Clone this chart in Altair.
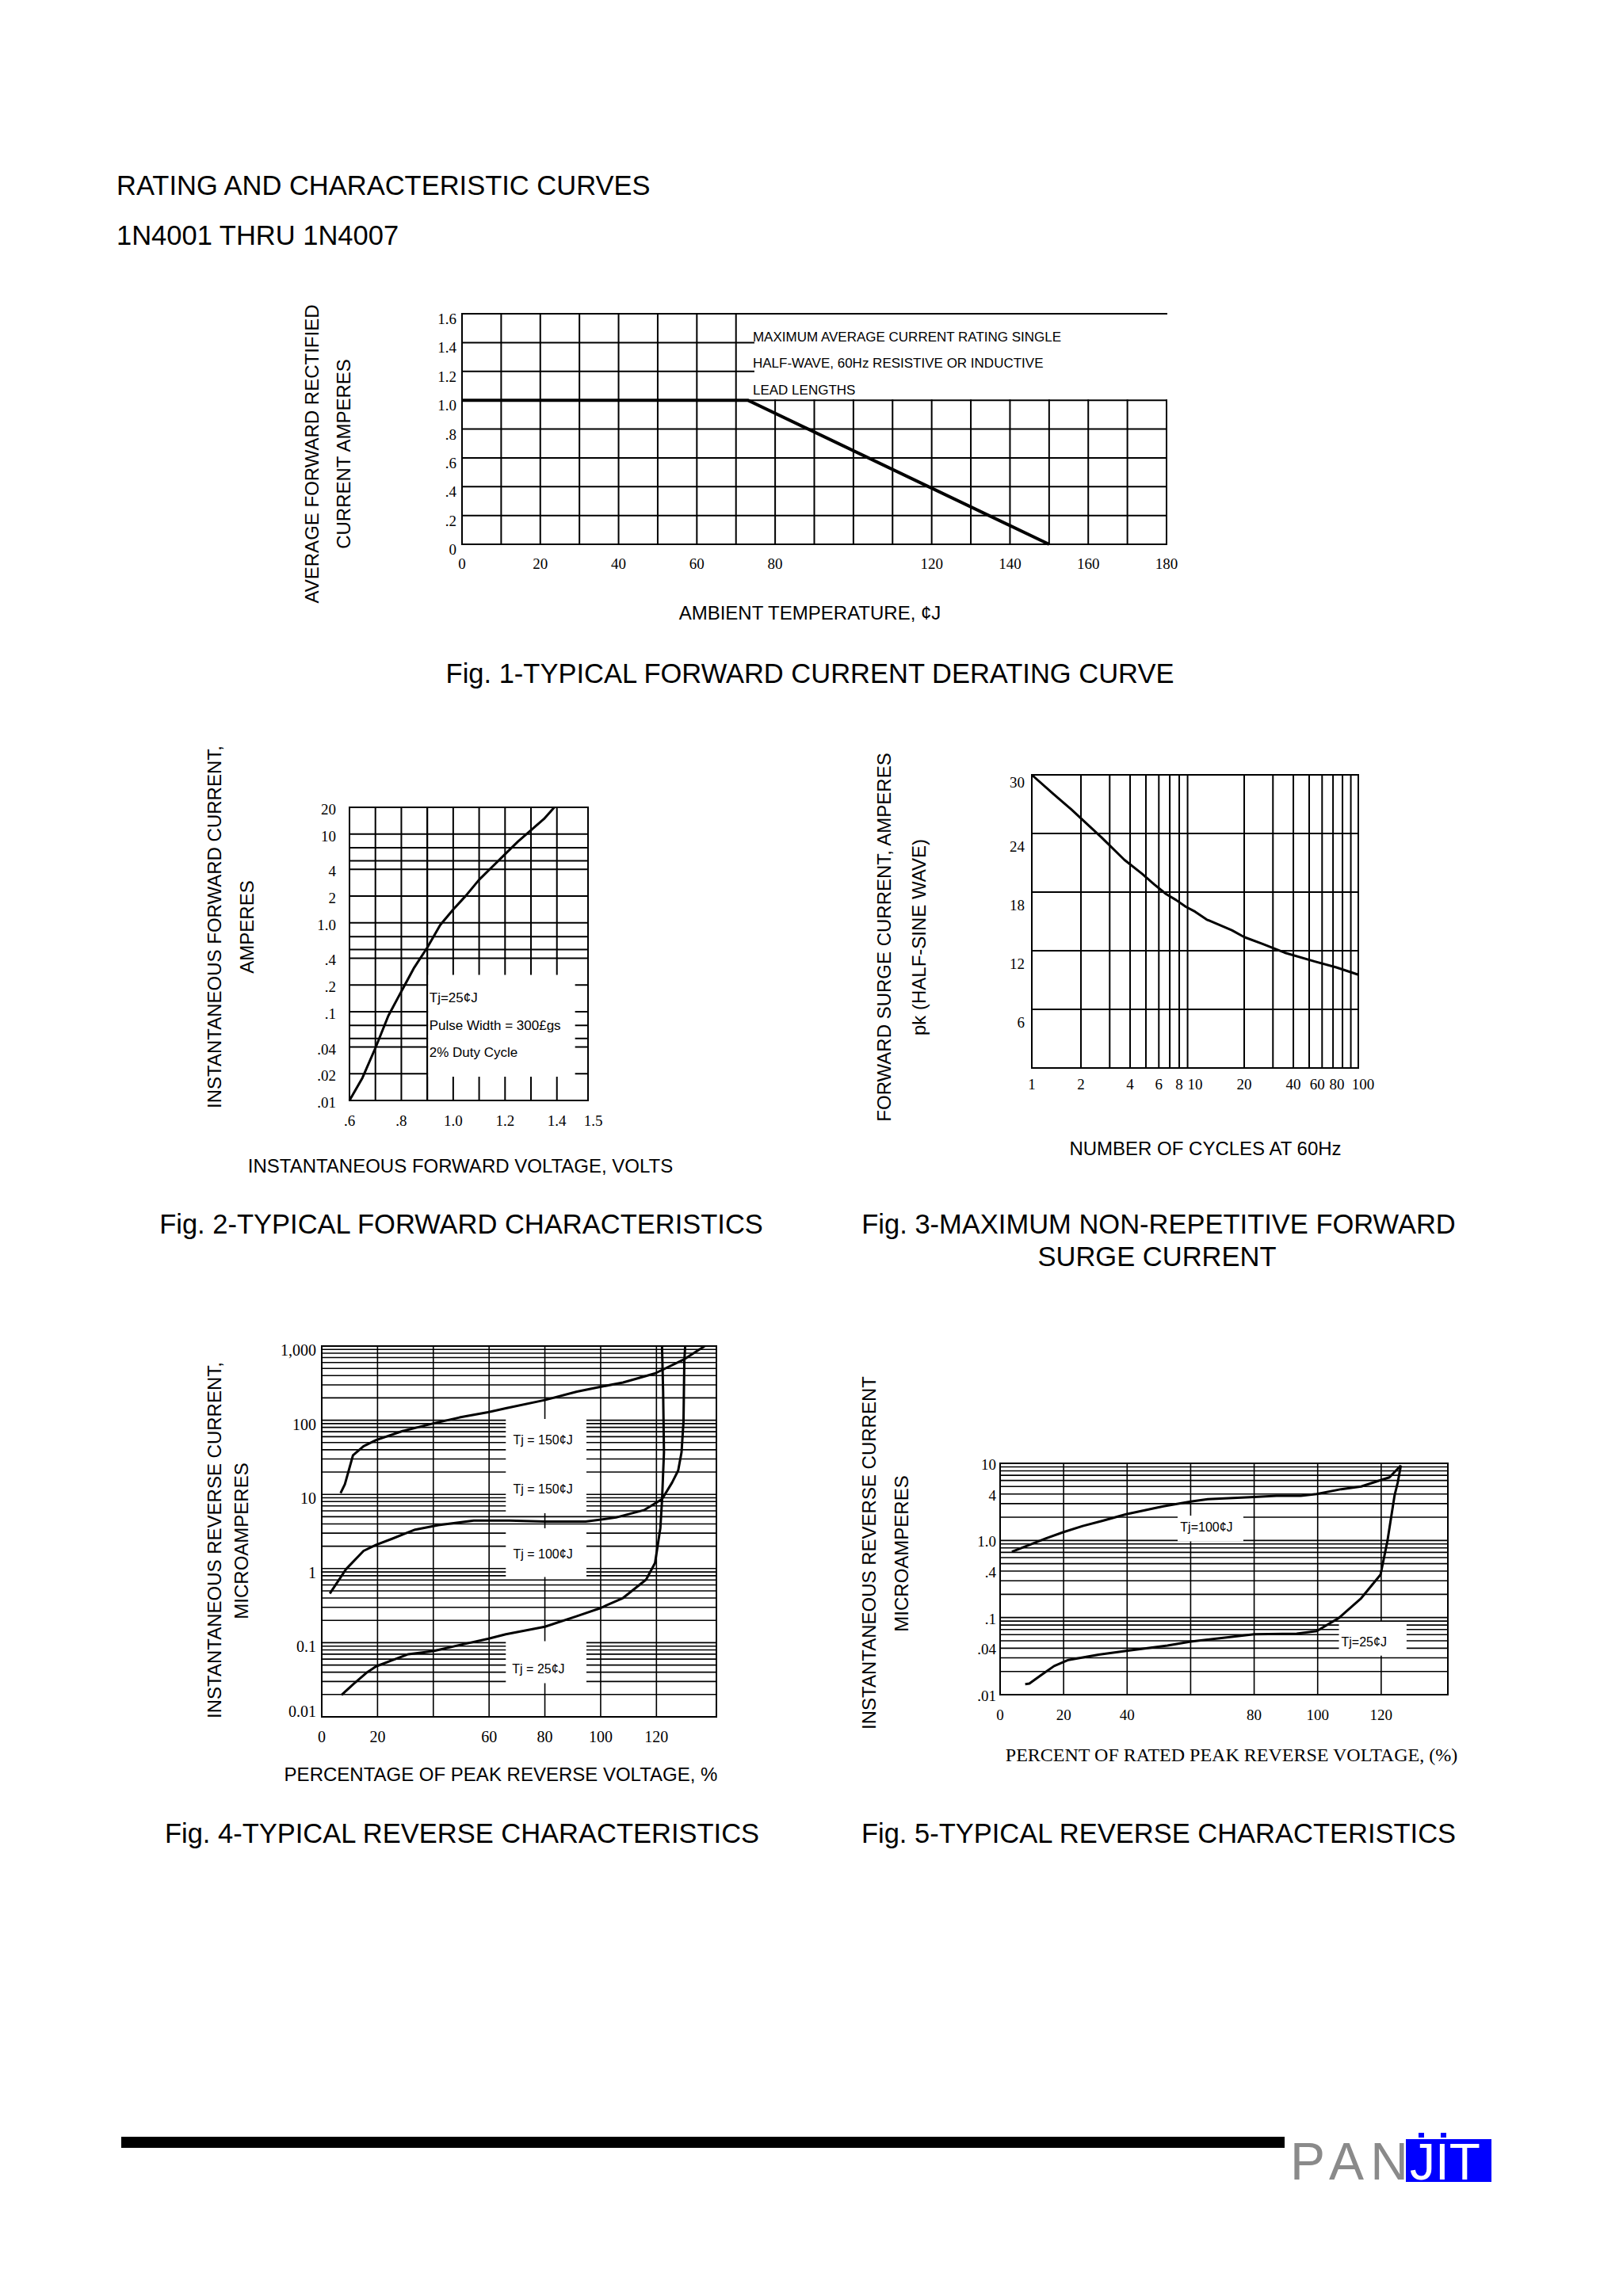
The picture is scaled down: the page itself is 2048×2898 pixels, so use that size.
import altair as alt
import pandas as pd

ORIGIN = 8
VIEW_W, VIEW_H = 2030, 2860
SANS = "Liberation Sans"
SERIF = "Liberation Serif"

# ---------------- Fig. 1 : derating curve ----------------
f1_temp = [0, 73, 150]
f1_amps = [1.0, 1.0, 0.0]
f1_x_ticks = [0, 20, 40, 60, 80, 120, 140, 160, 180]
f1_y_ticks = [0, 0.2, 0.4, 0.6, 0.8, 1.0, 1.2, 1.4, 1.6]
f1_y_labels = ["0", ".2", ".4", ".6", ".8", "1.0", "1.2", "1.4", "1.6"]
f1_vgrid_tall = [10, 20, 30, 40, 50, 60, 70]
f1_vgrid_short = [80, 90, 100, 110, 120, 130, 140, 150, 160, 170]
f1_hgrid_long = [0.2, 0.4, 0.6, 0.8, 1.0]
f1_hgrid_short = [1.2, 1.4]
f1_notes = ["MAXIMUM AVERAGE CURRENT RATING SINGLE",
            "HALF-WAVE, 60Hz RESISTIVE OR INDUCTIVE",
            "LEAD LENGTHS"]
f1_note_x = [74.3, 74.3, 74.3]
f1_note_y = [1.435, 1.253, 1.067]

# ---------------- Fig. 2 : forward characteristics ----------------
f2_volts = [0.6, 0.65, 0.7, 0.75, 0.8, 0.85, 0.9, 0.95, 1.0, 1.05, 1.1, 1.15, 1.2, 1.25, 1.3, 1.35, 1.39]
f2_amps = [0.01, 0.018, 0.039, 0.09, 0.169, 0.315, 0.527, 0.946, 1.415, 2.04, 3.06, 4.26, 5.93, 8.24, 11.04, 14.8, 20]
f2_x_ticks = [0.6, 0.8, 1.0, 1.2, 1.4, 1.54]
f2_x_labels = [".6", ".8", "1.0", "1.2", "1.4", "1.5"]
f2_y_ticks = [20, 10, 4, 2, 1, 0.4, 0.2, 0.1, 0.04, 0.02, 0.01]
f2_y_labels = ["20", "10", "4", "2", "1.0", ".4", ".2", ".1", ".04", ".02", ".01"]
f2_vgrid = [0.7, 0.8, 0.9, 1.0, 1.1, 1.2, 1.3, 1.4]
f2_hgrid = [10, 7, 5, 4, 2, 1, 0.7, 0.5, 0.4, 0.2, 0.1, 0.07, 0.05, 0.04, 0.02]
f2_box = [(0.903, 1.47, 0.0185, 0.26)]
f2_notes = ["Tj=25¢J", "Pulse Width = 300£gs", "2% Duty Cycle"]
f2_note_x = [0.908, 0.908, 0.908]
f2_note_y = [0.1415, 0.069, 0.0343]

# ---------------- Fig. 3 : surge current ----------------
f3_cycles = [1, 1.364, 1.735, 2.67, 3.69, 4.72, 5.61, 6.65, 7.64, 8.78, 10, 11.76, 16.8, 20.0, 25.9, 35.4, 54.2, 73.3, 100]
f3_amps = [30, 28.0, 26.5, 23.6, 21.3, 19.9, 18.8, 17.8, 17.2, 16.5, 16.0, 15.2, 14.1, 13.4, 12.7, 11.8, 10.9, 10.3, 9.55]
f3_x_ticks = [1, 2, 4, 6, 8, 10, 20, 40, 56, 74, 107]
f3_x_labels = ["1", "2", "4", "6", "8", "10", "20", "40", "60", "80", "100"]
f3_y_ticks = [6, 12, 18, 24]
f3_y_labels = ["6", "12", "18", "24"]
f3_y_top = [30]
f3_y_top_label = ["30"]
f3_vgrid = [2, 3, 4, 5, 6, 7, 8, 9, 20, 30, 40, 50, 60, 70, 80, 90]
f3_hgrid = [6, 12, 18, 24]

# ---------------- Fig. 4 : reverse characteristics ----------------
f4_a_pct = [6.75, 8.3, 11.2, 15, 19.5, 29, 40, 49.4, 59.6, 66, 80, 91.5, 99.5, 108, 119.5, 129.7, 137.3]
f4_a_ua = [10.4, 13.7, 33.6, 44.7, 54, 71.5, 90.5, 109, 128, 145, 187, 243, 280, 323, 428, 655, 1000]
f4_b_pct = [2.9, 8.7, 15, 19.5, 25.2, 33.5, 41.8, 54.5, 67.3, 80, 94.6, 105.5, 115.7, 122, 125.6, 127.8, 129, 129.7, 130, 130.3]
f4_b_ua = [0.46, 0.98, 1.73, 2.09, 2.52, 3.35, 3.85, 4.44, 4.44, 4.3, 4.3, 4.88, 6.17, 8.6, 14.4, 21, 37, 95, 624, 1000]
f4_c_pct = [7.1, 11.2, 16.3, 19.5, 25.2, 31, 40, 49.4, 59.6, 66, 80, 91.5, 99.5, 108, 116.3, 119.5, 121.4, 122, 122.7, 122.4, 122]
f4_c_ua = [0.0197, 0.0274, 0.04, 0.048, 0.058, 0.07, 0.077, 0.093, 0.113, 0.13, 0.164, 0.228, 0.289, 0.4, 0.71, 1.19, 3.5, 8.2, 37, 243, 1000]
f4_x_ticks = [0, 20, 60, 80, 100, 120]
f4_x_labels = ["0", "20", "60", "80", "100", "120"]
f4_y_ticks = [0.1, 1, 10, 100, 1000]
f4_y_labels = ["0.1", "1", "10", "100", "1,000"]
f4_y_bottom = [0.01]
f4_y_bottom_label = ["0.01"]
f4_vgrid = [20, 40, 60, 80, 100, 120]
f4_hgrid = [float(f"{k}e{e}") for e in range(-2, 3) for k in range(1, 10) if not (k == 1 and e == -2)]
f4_boxes = [(66, 94.9, 5.57, 104), (66, 94.9, 0.77, 3.49), (66, 94.9, 0.0285, 0.105)]
f4_notes = ["Tj = 150¢J", "Tj = 150¢J", "Tj = 100¢J", "Tj = 25¢J"]
f4_note_x = [79.3, 79.3, 79.3, 77.7]
f4_note_y = [53.7, 11.6, 1.56, 0.0435]

# ---------------- Fig. 5 : reverse characteristics ----------------
f5_a_pct = [3.7, 14.5, 20, 26, 32.3, 39.7, 51.4, 60, 65.4, 80, 87, 94.7, 99.7, 107.4, 113.7, 120, 122.6, 126.2]
f5_a_ua = [0.714, 1.065, 1.285, 1.54, 1.8, 2.19, 2.77, 3.19, 3.42, 3.65, 3.8, 3.8, 4.0, 4.62, 5.0, 6.08, 6.57, 9.36]
f5_b_pct = [7.9, 9.2, 13.2, 17, 21.5, 31, 39.7, 52.7, 60, 80, 93.4, 99.7, 106.7, 113.7, 119.8, 122, 124.2, 125.2, 126.2]
f5_b_ua = [0.0137, 0.0139, 0.0183, 0.0235, 0.0282, 0.033, 0.037, 0.0434, 0.0488, 0.0608, 0.0617, 0.0668, 0.099, 0.178, 0.36, 1.0, 3.8, 5.6, 9.36]
f5_x_ticks = [0, 20, 40, 80, 100, 120]
f5_x_labels = ["0", "20", "40", "80", "100", "120"]
f5_y_ticks = [0.01, 0.04, 0.1, 0.4, 1, 4, 10]
f5_y_labels = [".01", ".04", ".1", ".4", "1.0", "4", "10"]
f5_vgrid = [20, 40, 60, 80, 100, 120]
f5_hgrid = [float(f"{k}e{e}") for e in range(-2, 1) for k in range(1, 10) if not (k == 1 and e == -2)]
f5_boxes = [(55.9, 76.6, 0.97, 2.1), (106.7, 128, 0.032, 0.088)]
f5_notes = ["Tj=100¢J", "Tj=25¢J"]
f5_note_x = [65, 114.6]
f5_note_y = [1.47, 0.0476]


# ---------------- helpers ----------------
def P(v):
    return v - ORIGIN


def scale(typ, domain, a, b):
    if typ == "log":
        return alt.Scale(type="log", domain=domain, range=[P(a), P(b)], nice=False)
    return alt.Scale(type="linear", domain=domain, range=[P(a), P(b)], nice=False, zero=False)


def segs(items):
    return pd.DataFrame(items, columns=["x", "x2", "y", "y2"])


def seg_layer(df, sx, sy, width):
    return alt.Chart(df).mark_rule(color="black", strokeWidth=width, strokeCap="square").encode(
        x=alt.X("x:Q", scale=sx, axis=None), x2="x2:Q",
        y=alt.Y("y:Q", scale=sy, axis=None), y2="y2:Q")


def box_layer(df, sx, sy):
    return alt.Chart(df).mark_rect(color="white").encode(
        x=alt.X("x:Q", scale=sx, axis=None), x2="x2:Q",
        y=alt.Y("y:Q", scale=sy, axis=None), y2="y2:Q")


def curve_layer(series, sx, sy, width):
    rows = []
    for name, xs, ys in series:
        for i, (a, b) in enumerate(zip(xs, ys)):
            rows.append({"s": name, "i": i, "x": a, "y": b})
    return alt.Chart(pd.DataFrame(rows)).mark_line(color="black", strokeWidth=width, strokeJoin="round").encode(
        x=alt.X("x:Q", scale=sx, axis=None), y=alt.Y("y:Q", scale=sy, axis=None),
        detail="s:N", order=alt.Order("i:Q"))


def note_layer(texts, xs, ys, sx, sy, size, align):
    df = pd.DataFrame({"t": texts, "x": xs, "y": ys})
    return alt.Chart(df).mark_text(font=SANS, fontSize=size, align=align, baseline="middle", color="black").encode(
        x=alt.X("x:Q", scale=sx, axis=None), y=alt.Y("y:Q", scale=sy, axis=None), text="t:N")


def xtick_layer(vals, labels, sx, ypage, size=19):
    df = pd.DataFrame({"v": vals, "t": labels})
    return alt.Chart(df).mark_text(font=SERIF, fontSize=size, baseline="middle", color="black").encode(
        x=alt.X("v:Q", scale=sx, axis=None), y=alt.value(P(ypage)), text="t:N")


def ytick_layer(vals, labels, sy, xpage, dy, size=19):
    df = pd.DataFrame({"v": vals, "t": labels})
    return alt.Chart(df).mark_text(font=SERIF, fontSize=size, baseline="middle", align="right",
                                   dy=dy, color="black").encode(
        y=alt.Y("v:Q", scale=sy, axis=None), x=alt.value(P(xpage)), text="t:N")


def page_text(s, x, y, size, angle=0, font=SANS, align="center", baseline="middle", color="black"):
    kw = dict(font=font, fontSize=size, align=align, baseline=baseline, color=color)
    if angle:
        kw["angle"] = angle
    return alt.Chart(pd.DataFrame({"t": [s]})).mark_text(**kw).encode(
        x=alt.value(P(x)), y=alt.value(P(y)), text="t:N")


def page_rect(x1, x2, y1, y2, color):
    return alt.Chart(pd.DataFrame({"a": [0]})).mark_rect(color=color).encode(
        x=alt.value(P(x1)), x2=alt.value(P(x2)), y=alt.value(P(y1)), y2=alt.value(P(y2)))


layers = []

# ---------- Fig 1 ----------
sx1 = scale("linear", [0, 180], 583, 1472)
sy1 = scale("linear", [0, 1.6], 687, 396)
g1 = ([(v, v, 0, 1.6) for v in f1_vgrid_tall] + [(v, v, 0, 1.0) for v in f1_vgrid_short]
      + [(0, 180, v, v) for v in f1_hgrid_long] + [(0, 74.5, v, v) for v in f1_hgrid_short]
      + [(0, 0, 0, 1.6), (0, 180, 1.6, 1.6), (0, 180, 0, 0), (180, 180, 0, 1.0)])
layers += [
    seg_layer(segs(g1), sx1, sy1, 2),
    curve_layer([("a", f1_temp, f1_amps)], sx1, sy1, 4),
    note_layer(f1_notes, f1_note_x, f1_note_y, sx1, sy1, 17, "left"),
    xtick_layer(f1_x_ticks, [str(v) for v in f1_x_ticks], sx1, 712),
    ytick_layer(f1_y_ticks, f1_y_labels, sy1, 576, 7),
]

# ---------- Fig 2 ----------
sx2 = scale("linear", [0.6, 1.52], 441, 742)
sy2 = scale("log", [0.01, 20], 1389, 1019)
g2 = [(v, v, 0.01, 20) for v in f2_vgrid] + [(0.6, 1.52, v, v) for v in f2_hgrid]
b2 = [(0.6, 0.6, 0.01, 20), (1.52, 1.52, 0.01, 20), (0.6, 1.52, 0.01, 0.01), (0.6, 1.52, 20, 20)]
layers += [
    seg_layer(segs(g2), sx2, sy2, 2),
    box_layer(segs(f2_box), sx2, sy2),
    seg_layer(segs(b2 + [(0.9, 0.9, 0.01, 20)]), sx2, sy2, 2),
    curve_layer([("a", f2_volts, f2_amps)], sx2, sy2, 3),
    note_layer(f2_notes, f2_note_x, f2_note_y, sx2, sy2, 17, "left"),
    xtick_layer(f2_x_ticks, f2_x_labels, sx2, 1415),
    ytick_layer(f2_y_ticks, f2_y_labels, sy2, 424, 3),
]

# ---------- Fig 3 ----------
sx3 = scale("log", [1, 100], 1302, 1714)
sy3 = scale("linear", [0, 30], 1348, 978)
g3 = [(v, v, 0, 30) for v in f3_vgrid] + [(1, 100, v, v) for v in f3_hgrid]
b3 = [(1, 1, 0, 30), (100, 100, 0, 30), (1, 100, 0, 0), (1, 100, 30, 30)]
layers += [
    seg_layer(segs(g3 + b3), sx3, sy3, 2),
    curve_layer([("a", f3_cycles, f3_amps)], sx3, sy3, 3),
    xtick_layer(f3_x_ticks, f3_x_labels, sx3, 1369),
    ytick_layer(f3_y_ticks, f3_y_labels, sy3, 1293, 17),
    ytick_layer(f3_y_top, f3_y_top_label, sy3, 1293, 10),
]

# ---------- Fig 4 ----------
sx4 = scale("linear", [0, 141.5], 406, 904)
sy4 = scale("log", [0.01, 1000], 2167, 1699)
g4 = [(v, v, 0.01, 1000) for v in f4_vgrid] + [(0, 141.5, v, v) for v in f4_hgrid]
b4 = [(0, 0, 0.01, 1000), (141.5, 141.5, 0.01, 1000), (0, 141.5, 0.01, 0.01), (0, 141.5, 1000, 1000)]
layers += [
    seg_layer(segs(g4), sx4, sy4, 1.6),
    box_layer(segs(f4_boxes), sx4, sy4),
    seg_layer(segs(b4), sx4, sy4, 2),
    curve_layer([("a", f4_a_pct, f4_a_ua), ("b", f4_b_pct, f4_b_ua), ("c", f4_c_pct, f4_c_ua)], sx4, sy4, 3),
    note_layer(f4_notes, f4_note_x, f4_note_y, sx4, sy4, 16, "center"),
    xtick_layer(f4_x_ticks, f4_x_labels, sx4, 2193, 20),
    ytick_layer(f4_y_ticks, f4_y_labels, sy4, 399, 6, 20),
    ytick_layer(f4_y_bottom, f4_y_bottom_label, sy4, 399, -6, 20),
]

# ---------- Fig 5 ----------
sx5 = scale("linear", [0, 141], 1262, 1827)
sy5 = scale("log", [0.01, 10], 2139, 1847)
g5 = [(v, v, 0.01, 10) for v in f5_vgrid] + [(0, 141, v, v) for v in f5_hgrid]
b5 = [(0, 0, 0.01, 10), (141, 141, 0.01, 10), (0, 141, 0.01, 0.01), (0, 141, 10, 10)]
layers += [
    seg_layer(segs(g5), sx5, sy5, 1.6),
    box_layer(segs(f5_boxes), sx5, sy5),
    seg_layer(segs(b5), sx5, sy5, 2),
    curve_layer([("a", f5_a_pct, f5_a_ua), ("b", f5_b_pct, f5_b_ua)], sx5, sy5, 3),
    note_layer(f5_notes, f5_note_x, f5_note_y, sx5, sy5, 16, "center"),
    xtick_layer(f5_x_ticks, f5_x_labels, sx5, 2165),
    ytick_layer(f5_y_ticks, f5_y_labels, sy5, 1257, 2),
]

# ---------- page texts ----------
layers += [
    page_text("RATING AND CHARACTERISTIC CURVES", 147, 246, 34.5, align="left", baseline="alphabetic"),
    page_text("1N4001 THRU 1N4007", 147, 309, 34.5, align="left", baseline="alphabetic"),
    page_text("AVERAGE FORWARD RECTIFIED", 395, 573, 24, angle=270),
    page_text("CURRENT AMPERES", 435, 573, 24, angle=270),
    page_text("AMBIENT TEMPERATURE, ¢J", 1022, 775, 24),
    page_text("Fig. 1-TYPICAL FORWARD CURRENT DERATING CURVE", 1022, 852, 34.5),
    page_text("INSTANTANEOUS FORWARD CURRENT,", 272, 1170, 24, angle=270),
    page_text("AMPERES", 313, 1170, 24, angle=270),
    page_text("INSTANTANEOUS FORWARD VOLTAGE, VOLTS", 581, 1473, 24),
    page_text("Fig. 2-TYPICAL FORWARD CHARACTERISTICS", 582, 1547, 34.5),
    page_text("FORWARD SURGE CURRENT, AMPERES", 1117, 1183, 24, angle=270),
    page_text("pk (HALF-SINE WAVE)", 1161, 1183, 24, angle=270),
    page_text("NUMBER OF CYCLES AT 60Hz", 1521, 1451, 24),
    page_text("Fig. 3-MAXIMUM NON-REPETITIVE FORWARD", 1462, 1547, 34.5),
    page_text("SURGE CURRENT", 1460, 1588, 34.5),
    page_text("INSTANTANEOUS REVERSE CURRENT,", 272, 1944, 24, angle=270),
    page_text("MICROAMPERES", 306, 1945, 24, angle=270),
    page_text("PERCENTAGE OF PEAK REVERSE VOLTAGE, %", 632, 2241, 24),
    page_text("Fig. 4-TYPICAL REVERSE CHARACTERISTICS", 583, 2316, 34.5),
    page_text("INSTANTANEOUS REVERSE CURRENT", 1098, 1960, 24, angle=270),
    page_text("MICROAMPERES", 1139, 1961, 24, angle=270),
    page_text("PERCENT OF RATED PEAK REVERSE VOLTAGE, (%)", 1554, 2216, 24, font=SERIF),
    page_text("Fig. 5-TYPICAL REVERSE CHARACTERISTICS", 1462, 2316, 34.5),
]

# ---------- footer / logo ----------
LOGO_GRAY = "#8a8a8a"
layers += [
    page_rect(153, 1621, 2697, 2711, "black"),
    page_text("P", 1650, 2751, 66, baseline="alphabetic", color=LOGO_GRAY),
    page_text("A", 1699, 2751, 66, baseline="alphabetic", color=LOGO_GRAY),
    page_text("N", 1753, 2751, 66, baseline="alphabetic", color=LOGO_GRAY),
    page_rect(1774, 1882, 2700, 2754, "#0000ff"),
    page_rect(1790, 1797, 2692, 2698, "#0000ff"),
    page_rect(1818, 1825, 2692, 2698, "#0000ff"),
    page_text("JIT", 1779, 2751, 64, align="left", baseline="alphabetic", color="white"),
]

chart = (
    alt.layer(*layers)
    .resolve_scale(x="independent", y="independent")
    .properties(width=VIEW_W, height=VIEW_H, padding=0, background="white")
    .configure_view(stroke=None)
)

chart.save("out.html", embed_options={"renderer": "svg", "actions": False})
